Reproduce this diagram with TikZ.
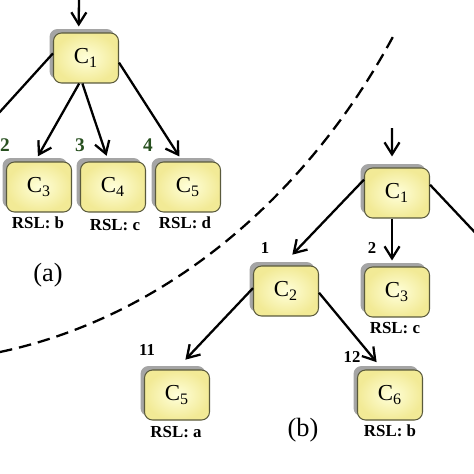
\documentclass[tikz,border=0pt]{standalone}
\usepackage{fontspec}
\setmainfont{Liberation Serif}
\usepackage{tikz}
\usetikzlibrary{shapes,arrows.meta,positioning,calc,shadows}

\definecolor{boxin}{RGB}{255,255,218}
\definecolor{boxout}{RGB}{242,234,150}
\definecolor{boxline}{RGB}{90,90,60}
\definecolor{shadowgray}{RGB}{165,165,165}
\definecolor{numgreen}{RGB}{40,80,32}

\tikzset{
	cbox/.style={draw=boxline, line width=0.6pt, rounded corners=0.16cm,
		minimum width=1.3cm, minimum height=1cm, inner color=boxin, outer color=boxout,
		drop shadow={shadow xshift=-0.08cm, shadow yshift=0.08cm, fill=shadowgray, opacity=1},
		font=\fontsize{13}{14}\selectfont},
	rsl/.style={font=\bfseries\fontsize{9.6}{11}\selectfont},
	gnum/.style={text=numgreen, font=\bfseries\fontsize{11}{12}\selectfont},
	bnum/.style={font=\bfseries\fontsize{9.5}{11}\selectfont},
	arr/.style={-{Straight Barb[length=0.24cm,width=0.3cm]}, line width=1.3pt},
	plain/.style={line width=1.3pt}
}

\begin{document}
\begin{tikzpicture}[x=0.02cm, y=-0.02cm]
	\useasboundingbox (0,0) rectangle (474,474);

	% (a)
	\coordinate (ina) at (79,-5);
	\coordinate (c2a) at (-41,157);
	\node[cbox] (c1a) at (86,58) {C\textsubscript{1}};
	\node[cbox] (c3a) at (39,187) {C\textsubscript{3}};
	\node[cbox] (c4a) at (113,187) {C\textsubscript{4}};
	\node[cbox] (c5a) at (188,187) {C\textsubscript{5}};
	\draw[arr, shorten >=0.12cm] (ina) -- (c1a.106);
	\draw[plain] (c1a.172) -- (c2a);
	\draw[arr, shorten >=0.12cm] (c1a.255) -- (c3a.99);
	\draw[arr, shorten >=0.12cm] (c1a.262) -- (c4a.100);
	\draw[arr, shorten >=0.12cm] (c1a.352) -- (c5a.102);
	\node[gnum] (n2a) at (5,145) {2};
	\node[gnum] (n3a) at (80,145) {3};
	\node[gnum] (n4a) at (148,145) {4};
	\node[rsl] (ra) at (38,223) {RSL: b};
	\node[rsl] (rb) at (115,225) {RSL: c};
	\node[rsl] (rc) at (185,223) {RSL: d};
	\node[font=\fontsize{15}{16}\selectfont] (capa) at (48,275) {(a)};

	% dividing line
	\draw[line width=1.3pt, dash pattern=on 0.25cm off 0.14cm]
		(0,352) .. controls (175,315) and (315,185) .. (396,31);

	% (b)
	\coordinate (inb) at (392,128);
	\node[cbox] (c1b) at (397,193) {C\textsubscript{1}};
	\node[cbox] (c2b) at (286,291) {C\textsubscript{2}};
	\node[cbox] (c3b) at (397,292) {C\textsubscript{3}};
	\node[cbox] (c4b) at (512,292) {};
	\node[cbox] (c5b) at (177,395) {C\textsubscript{5}};
	\node[cbox] (c6b) at (390,395) {C\textsubscript{6}};
	\draw[arr, shorten >=0.22cm] (inb) -- (c1b.101);
	\draw[arr, shorten >=0.3cm] (c1b.158) -- (c2b.99);
	\draw[arr, shorten >=0.12cm] (c1b.259) -- (c3b.101);
	\draw[arr, shorten >=0.2cm] (c1b.14) -- (c4b.101);
	\draw[arr, shorten >=0.27cm] (c2b.175) -- (c5b.92);
	\draw[arr, shorten >=0.19cm] (c2b.357) -- (c6b.106);
	\node[bnum] (n1b) at (265,248) {1};
	\node[bnum] (n2b) at (372,248) {2};
	\node[bnum] (n11b) at (147,350) {11};
	\node[bnum] (n12b) at (352,357) {12};
	\node[rsl] (rcb) at (395,328) {RSL: c};
	\node[rsl] (rab) at (176,432) {RSL: a};
	\node[rsl] (rbb) at (390,431) {RSL: b};
	\node[font=\fontsize{15}{16}\selectfont] (capb) at (303,430) {(b)};
\end{tikzpicture}
\end{document}
